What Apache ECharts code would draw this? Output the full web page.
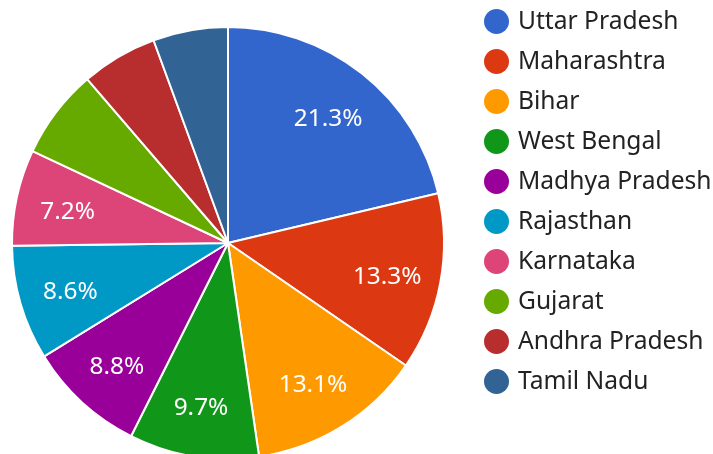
<!DOCTYPE html>
<html>
<head>
<meta charset="utf-8">
<script src="https://cdn.jsdelivr.net/npm/echarts@6/dist/echarts.min.js"></script>
<style>
html,body{margin:0;padding:0;background:#fff;}
#c{width:713px;height:454px;}
</style>
</head>
<body>
<div id="c"></div>
<script>
const categories = ["Uttar Pradesh","Maharashtra","Bihar","West Bengal","Madhya Pradesh","Rajasthan","Karnataka","Gujarat","Andhra Pradesh","Tamil Nadu"];
const values = [21.3, 13.3, 13.1, 9.7, 8.8, 8.6, 7.2, 6.7, 5.7, 5.6];
const colors = ["#3366cc","#dc3912","#ff9900","#109618","#990099","#0099c6","#dd4477","#66aa00","#b82e2e","#316395"];
const labelShown = [true, true, true, true, true, true, true, false, false, false];

const font = "'Noto Sans', 'Open Sans', sans-serif";
const chart = echarts.init(document.getElementById('c'), null, {renderer: 'canvas'});

const mainData = categories.map((n, i) => ({
  name: n, value: values[i],
  itemStyle: {color: colors[i]}
}));
const labelData = categories.map((n, i) => ({
  name: n, value: values[i],
  itemStyle: {color: 'rgba(0,0,0,0)'},
  label: {show: labelShown[i]}
}));

chart.setOption({
  animation: false,
  color: colors,
  legend: {
    orient: 'vertical',
    left: 484,
    top: 9,
    icon: 'circle',
    itemWidth: 33,
    itemHeight: 25,
    itemGap: 15,
    padding: 0,
    itemStyle: {borderWidth: 0},
    textStyle: {fontFamily: font, fontSize: 24.6, color: '#222', lineHeight: 25, padding: 0},
    data: categories
  },
  series: [
    {
      type: 'pie',
      center: [228, 243],
      radius: [0, 216],
      startAngle: 90,
      clockwise: true,
      label: {show: false},
      labelLine: {show: false},
      itemStyle: {borderColor: '#fff', borderWidth: 2},
      emphasis: {disabled: true},
      data: mainData
    },
    {
      type: 'pie',
      center: [228, 243],
      radius: [104, 216],
      startAngle: 90,
      clockwise: true,
      silent: true,
      legendHoverLink: false,
      label: {
        show: true, position: 'inside',
        formatter: p => p.value.toFixed(1) + '%',
        color: '#fff', fontFamily: font, fontSize: 24.4,
        offset: [-1, 4]
      },
      labelLine: {show: false},
      itemStyle: {borderWidth: 0},
      emphasis: {disabled: true},
      data: labelData
    }
  ]
});
</script>
</body>
</html>
